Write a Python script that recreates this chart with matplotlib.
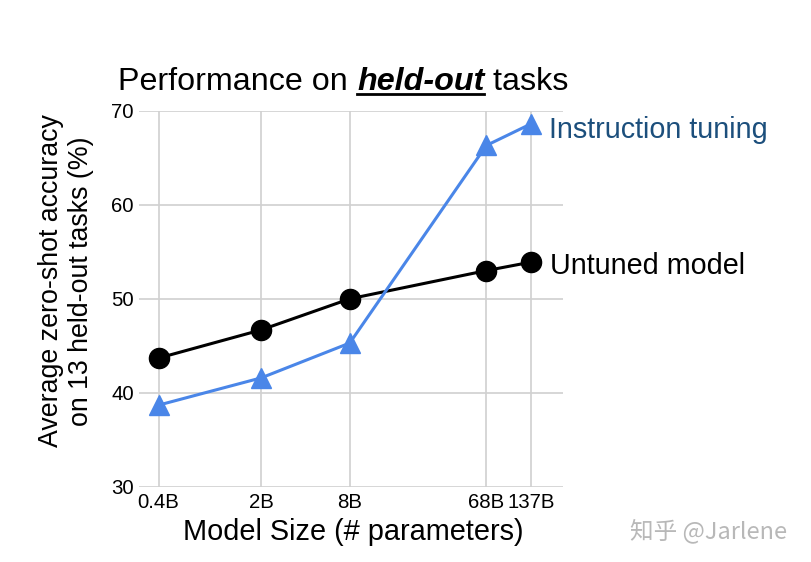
import matplotlib
matplotlib.use("Agg")
import matplotlib.pyplot as plt

plt.rcParams['font.family'] = ['Liberation Sans', 'DejaVu Sans']

# data
sizes = [0.4, 2, 8, 68, 137]
size_labels = ['0.4B', '2B', '8B', '68B', '137B']
untuned = [43.7, 46.7, 50.0, 53.0, 53.9]
instruction = [38.7, 41.6, 45.3, 66.3, 68.6]

fig = plt.figure(figsize=(8.12, 5.62), dpi=100)
ax = fig.add_axes([0.1716, 0.1335, 0.5214, 0.6696])

ax.plot(sizes, untuned, color='black', lw=2.2, marker='o', ms=14.5, zorder=3)
ax.plot(sizes, instruction, color='#4a86e8', lw=2.2, marker='^', ms=15, zorder=4)

ax.set_xscale('log')
ax.set_xlim(0.296, 225)
ax.set_ylim(30, 70)
ax.set_xticks(sizes)
ax.set_xticklabels(size_labels)
ax.minorticks_off()
ax.set_yticks([30, 40, 50, 60, 70])
ax.tick_params(length=0, labelsize=14.7, pad=4)
ax.grid(True, color='#d0d0d0', lw=1.2)
ax.set_axisbelow(True)
for s in ax.spines.values():
    s.set_visible(False)

ax.annotate('Instruction tuning', (sizes[-1], instruction[-1]), xytext=(13, -4.5),
            textcoords='offset points', va='center', ha='left', fontsize=20.7,
            color='#1c4f7c', annotation_clip=False)
ax.annotate('Untuned model', (sizes[-1], untuned[-1]), xytext=(14, -3),
            textcoords='offset points', va='center', ha='left', fontsize=20.7,
            color='black', annotation_clip=False)

fig.text(353/812, 1 - 532/562, 'Model Size (# parameters)', fontsize=20.8,
         ha='center', va='center')
fig.text(66/812, 1 - 281/562, 'Average zero-shot accuracy\non 13 held-out tasks (%)',
         fontsize=19.3, rotation=90, ha='center', va='center',
         multialignment='center', linespacing=1.2)

# title with bold italic underlined middle part
renderer = fig.canvas.get_renderer()
parts = [('Performance on ', 'normal', 'normal'),
         ('held-out', 'bold', 'italic'),
         (' tasks', 'normal', 'normal')]
base_y = 1 - 90/562
texts = []
widths = []
for txt, w, st in parts:
    t = fig.text(0, base_y, txt, fontsize=23.2, fontweight=w, fontstyle=st,
                 va='baseline', ha='left')
    bb = t.get_window_extent(renderer)
    texts.append(t)
    widths.append(bb.width)
total = sum(widths)
x0 = 343.5 - total / 2
for t, wd in zip(texts, widths):
    t.set_x(x0 / 812)
    if t.get_text() == 'held-out':
        fig.add_artist(plt.Line2D([x0 / 812, (x0 + wd) / 812],
                                  [base_y - 4/562, base_y - 4/562],
                                  color='black', lw=2, transform=fig.transFigure))
    x0 += wd

fig.text(630/812, 1 - 531/562, '知乎 @Jarlene', fontsize=17, color='#b8b8b8',
         ha='left', va='center', family=['Noto Sans CJK SC', 'DejaVu Sans'])

fig.savefig('out.png', dpi=100)
